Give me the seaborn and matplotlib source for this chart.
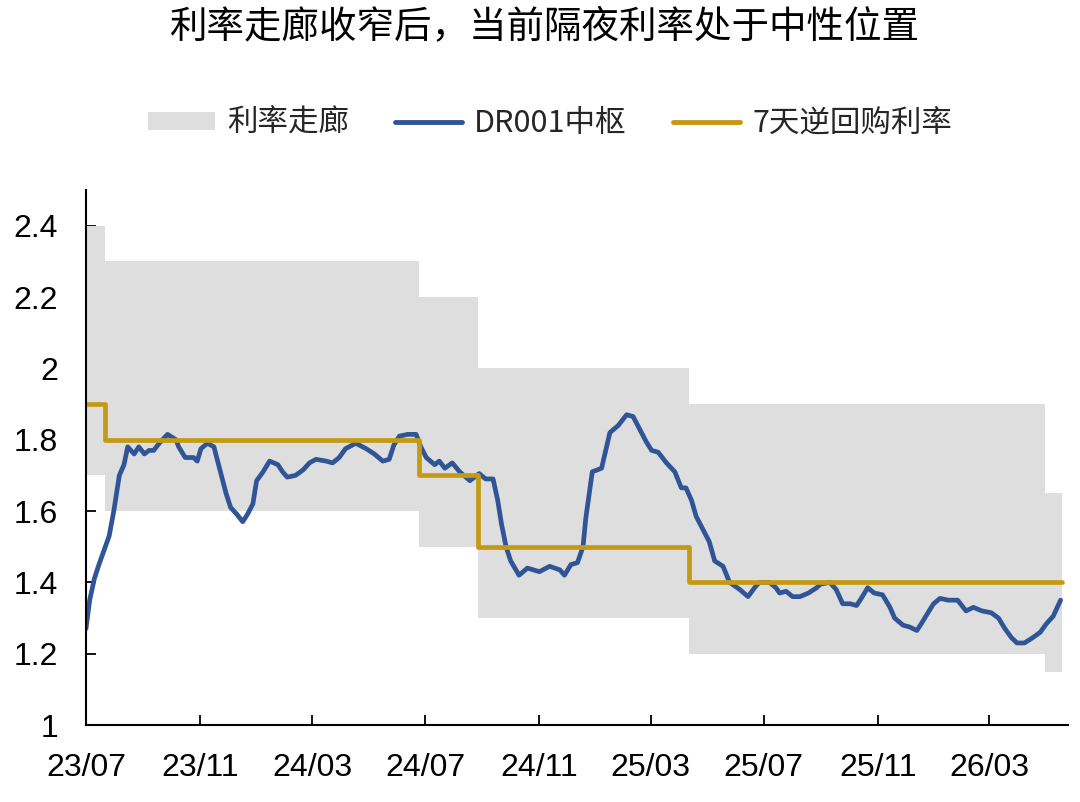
import pandas as pd
import seaborn as sns
import matplotlib.pyplot as plt
import matplotlib.dates as mdates
from matplotlib.patches import Patch
from matplotlib.lines import Line2D

# DR001 中枢
dr_dates = [
    "2023-07-01", "2023-07-05", "2023-07-10", "2023-07-15", "2023-07-26", "2023-07-31",
    "2023-08-06", "2023-08-11", "2023-08-15", "2023-08-22", "2023-08-27", "2023-09-02",
    "2023-09-07", "2023-09-12", "2023-09-18", "2023-09-27", "2023-10-06", "2023-10-09",
    "2023-10-16", "2023-10-25", "2023-10-29", "2023-11-02", "2023-11-09", "2023-11-16",
    "2023-11-22", "2023-11-29", "2023-12-04", "2023-12-11", "2023-12-17", "2023-12-22",
    "2023-12-28", "2024-01-01", "2024-01-08", "2024-01-15", "2024-01-24", "2024-01-29",
    "2024-02-03", "2024-02-12", "2024-02-20", "2024-02-27", "2024-03-05", "2024-03-16",
    "2024-03-23", "2024-03-30", "2024-04-06", "2024-04-17", "2024-04-28", "2024-05-07",
    "2024-05-16", "2024-05-23", "2024-05-28", "2024-06-03", "2024-06-12", "2024-06-21",
    "2024-06-26", "2024-07-02", "2024-07-11", "2024-07-16", "2024-07-22", "2024-07-30",
    "2024-08-07", "2024-08-18", "2024-08-28", "2024-09-04", "2024-09-12", "2024-09-17",
    "2024-09-21", "2024-09-26", "2024-10-01", "2024-10-10", "2024-10-19", "2024-11-01",
    "2024-11-12", "2024-11-23", "2024-11-28", "2024-12-05", "2024-12-12", "2024-12-18",
    "2024-12-21", "2024-12-28", "2025-01-07", "2025-01-16", "2025-01-25", "2025-02-03",
    "2025-02-10", "2025-02-17", "2025-02-24", "2025-03-02", "2025-03-09", "2025-03-18",
    "2025-03-27", "2025-04-03", "2025-04-08", "2025-04-14", "2025-04-19", "2025-04-26",
    "2025-05-03", "2025-05-09", "2025-05-18", "2025-05-25", "2025-06-05", "2025-06-14",
    "2025-06-21", "2025-06-26", "2025-07-07", "2025-07-14", "2025-07-18", "2025-07-25",
    "2025-08-01", "2025-08-09", "2025-08-18", "2025-08-27", "2025-08-31", "2025-09-10",
    "2025-09-17", "2025-09-24", "2025-10-02", "2025-10-09", "2025-10-14", "2025-10-21",
    "2025-10-28", "2025-11-06", "2025-11-14", "2025-11-19", "2025-11-28", "2025-12-05",
    "2025-12-13", "2025-12-18", "2025-12-25", "2025-12-31", "2026-01-07", "2026-01-16",
    "2026-01-26", "2026-02-04", "2026-02-12", "2026-02-21", "2026-03-03", "2026-03-11",
    "2026-03-18", "2026-03-25", "2026-03-31", "2026-04-08", "2026-04-17", "2026-04-25",
    "2026-05-02", "2026-05-09", "2026-05-17",
]
dr_values = [
    1.27, 1.35, 1.41, 1.45, 1.53, 1.60,
    1.70, 1.73, 1.78, 1.76, 1.78, 1.76,
    1.77, 1.77, 1.79, 1.815, 1.80, 1.78,
    1.75, 1.75, 1.74, 1.775, 1.79, 1.78,
    1.72, 1.65, 1.61, 1.59, 1.57, 1.59,
    1.62, 1.685, 1.71, 1.74, 1.73, 1.71,
    1.695, 1.70, 1.715, 1.735, 1.745, 1.74,
    1.735, 1.75, 1.775, 1.79, 1.775, 1.76,
    1.74, 1.745, 1.785, 1.81, 1.815, 1.815,
    1.78, 1.75, 1.73, 1.74, 1.72, 1.735,
    1.71, 1.685, 1.705, 1.69, 1.69, 1.63,
    1.565, 1.50, 1.46, 1.42, 1.44, 1.43,
    1.445, 1.435, 1.42, 1.45, 1.455, 1.50,
    1.58, 1.71, 1.72, 1.82, 1.84, 1.87,
    1.865, 1.83, 1.795, 1.77, 1.765, 1.735,
    1.71, 1.665, 1.665, 1.63, 1.585, 1.55,
    1.515, 1.46, 1.445, 1.40, 1.38, 1.36,
    1.385, 1.40, 1.40, 1.385, 1.37, 1.375,
    1.36, 1.36, 1.37, 1.385, 1.395, 1.40,
    1.38, 1.34, 1.34, 1.335, 1.355, 1.385,
    1.37, 1.365, 1.33, 1.30, 1.28, 1.275,
    1.265, 1.285, 1.315, 1.34, 1.355, 1.35,
    1.35, 1.32, 1.33, 1.32, 1.315, 1.30,
    1.27, 1.245, 1.23, 1.23, 1.245, 1.26,
    1.285, 1.305, 1.35,
]

# policy steps: 7天逆回购利率 and 利率走廊 bounds
step_dates = ["2023-07-01", "2023-07-21", "2024-06-24", "2024-08-27",
              "2025-04-11", "2026-04-30", "2026-05-19"]
repo_rate = [1.9, 1.8, 1.7, 1.5, 1.4, 1.4, 1.4]
corridor_upper = [2.4, 2.3, 2.2, 2.0, 1.9, 1.65, 1.65]
corridor_lower = [1.7, 1.6, 1.5, 1.3, 1.2, 1.15, 1.15]

tick_months = ["2023-07-01", "2023-11-01", "2024-03-01", "2024-07-01", "2024-11-01",
               "2025-03-01", "2025-07-01", "2025-11-01", "2026-03-01"]
y_ticks = [1, 1.2, 1.4, 1.6, 1.8, 2, 2.2, 2.4]

dr = pd.DataFrame({"date": pd.to_datetime(dr_dates), "value": dr_values})
steps = pd.DataFrame({"date": pd.to_datetime(step_dates), "repo": repo_rate,
                      "upper": corridor_upper, "lower": corridor_lower})

sns.set_theme(style="ticks")
plt.rcParams['font.family'] = ['Noto Sans CJK SC', 'DejaVu Sans']

grey = "#DEDEDE"
blue = "#2F5597"
gold = "#C49A14"

fig = plt.figure(figsize=(10.8, 8.02), dpi=100)
ax = fig.add_axes([0.0796, 0.096, 0.9093, 0.667])

ax.fill_between(steps["date"], steps["lower"], steps["upper"], step="post",
                color=grey, linewidth=0)
sns.lineplot(data=dr, x="date", y="value", ax=ax, color=blue, linewidth=3.4)
sns.lineplot(data=steps, x="date", y="repo", ax=ax, color=gold, linewidth=3.4,
             drawstyle="steps-post")

ax.set_xlim(pd.Timestamp("2023-07-01"), pd.Timestamp("2026-05-25"))
ax.set_ylim(1, 2.5)
ax.set_xticks(pd.to_datetime(tick_months))
ax.xaxis.set_major_formatter(mdates.DateFormatter("%y/%m"))
ax.set_yticks(y_ticks)
ax.set_yticklabels([f"{v:g}" for v in y_ticks])
ax.set_xlabel("")
ax.set_ylabel("")

for side in ["top", "right"]:
    ax.spines[side].set_visible(False)
for side in ["left", "bottom"]:
    ax.spines[side].set_color("black")
    ax.spines[side].set_linewidth(1.5)

ax.tick_params(axis="both", direction="in", length=7, width=1.3, colors="black",
               labelsize=21)
ax.tick_params(axis="x", pad=20)
ax.tick_params(axis="y", pad=20)
for lab in ax.get_xticklabels() + ax.get_yticklabels():
    lab.set_family(["Liberation Sans Narrow", "Liberation Sans", "DejaVu Sans"])
    lab.set_fontsize(23)

fig.text(0.505, 0.966, "利率走廊收窄后，当前隔夜利率处于中性位置",
         ha="center", va="center", fontsize=27, color="black")

handles = [
    Patch(facecolor=grey, edgecolor="none"),
    Line2D([], [], color=blue, linewidth=3.5),
    Line2D([], [], color=gold, linewidth=3.5),
]
fig.legend(handles, ["利率走廊", "DR001中枢", "7天逆回购利率"],
           loc="center", bbox_to_anchor=(0.509, 0.846), ncol=3, frameon=False,
           fontsize=22, handlelength=2.2, handleheight=0.5, handletextpad=0.4,
           columnspacing=1.5)

fig.savefig("out.png", dpi=100)
